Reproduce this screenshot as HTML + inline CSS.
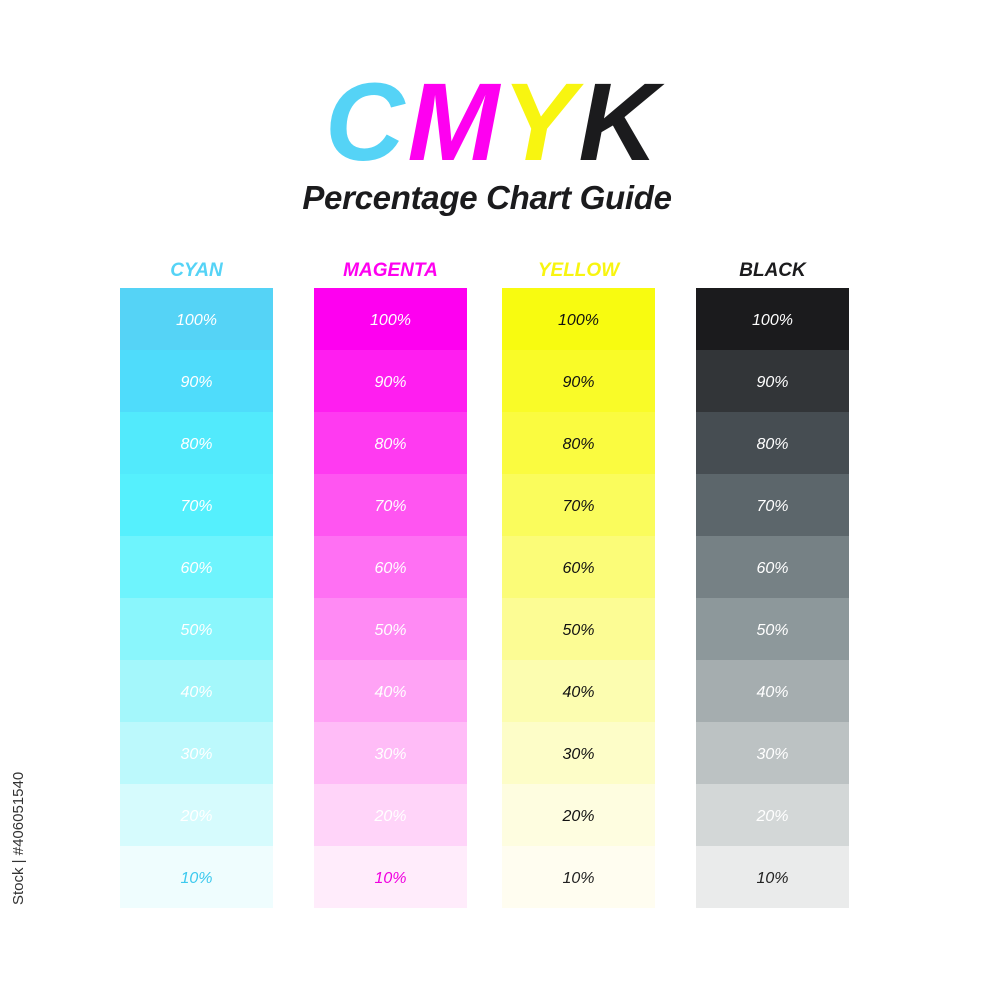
<!DOCTYPE html>
<html><head><meta charset="utf-8"><style>
body{margin:0;width:1000px;height:1000px;background:#fff;position:relative;overflow:hidden;font-family:"Liberation Sans",sans-serif}
.t{position:absolute;left:0;width:1000px;text-align:center}
.hd{position:absolute;width:153px;text-align:center;font:italic bold 19px "Liberation Sans",sans-serif;top:260px}
.cell{position:absolute;width:153px;height:62px;display:flex;align-items:center;justify-content:center;font:italic 16px "Liberation Sans",sans-serif;padding-top:3px;box-sizing:border-box}
</style></head><body>
<div class="t" style="top:58px;font:italic bold 110px 'Liberation Sans',sans-serif;letter-spacing:3px;left:-7px;line-height:130px"><span style="color:#55d3f6">C</span><span style="color:#fe00f0">M</span><span style="color:#f8f510">Y</span><span style="color:#1b1b1d">K</span></div>
<div class="t" style="top:179px;font:italic bold 33px 'Liberation Sans',sans-serif;color:#1b1b1d;left:-13px;letter-spacing:-0.3px">Percentage Chart Guide</div>
<div style="position:absolute;left:10px;top:905px;transform:rotate(-90deg);transform-origin:0 0;font:15px 'Liberation Sans',sans-serif;color:#333;white-space:nowrap">Stock | #406051540</div>
<div id="chart"></div>
<script>
const columns=["CYAN","MAGENTA","YELLOW","BLACK"];
const levels=["100%","90%","80%","70%","60%","50%","40%","30%","20%","10%"];
const headerColors=["#55d3f6","#fe00f0","#f8f510","#1b1b1d"];
const cyanColors=["#55d3f6","#4fdcfb","#52eafc","#55f0fd","#6ef4fd","#8af6fc","#a4f7fb","#bcf9fc","#d6fbfd","#effdfe"];
const magentaColors=["#fe00f0","#ff1ef0","#ff3af1","#ff55f1","#ff70f3","#ff8af4","#ffa3f5","#ffbcf7","#ffd4f9","#ffecfb"];
const yellowColors=["#f8fb10","#f9fb28","#fafb40","#fafc5c","#fbfc78","#fcfc94","#fcfdb0","#fdfdc8","#fefde0","#fffdf0"];
const blackColors=["#1b1b1d","#323538","#464d52","#5c666b","#768185","#8d989b","#a5adaf","#bcc2c3","#d3d7d7","#eaebeb"];
const colX=[120,314,502,696];
const fills=[cyanColors,magentaColors,yellowColors,blackColors];
const chart=document.getElementById('chart');
columns.forEach((c,i)=>{
  const h=document.createElement('div');h.className='hd';h.style.left=colX[i]+'px';h.style.color=headerColors[i];h.textContent=c;
  
  
  chart.appendChild(h);
  levels.forEach((l,j)=>{
    const d=document.createElement('div');d.className='cell';
    d.style.left=colX[i]+'px';d.style.top=(288+62*j)+'px';d.style.background=fills[i][j];
    let tc='#fff';
    if(i===2)tc='#111';
    if(j===levels.length-1)tc=i===0?'#3cc9ee':i===1?'#f000e0':'#222';
    d.style.color=tc;d.textContent=l;
    
    
    chart.appendChild(d);
  });
});
</script>
</body></html>
